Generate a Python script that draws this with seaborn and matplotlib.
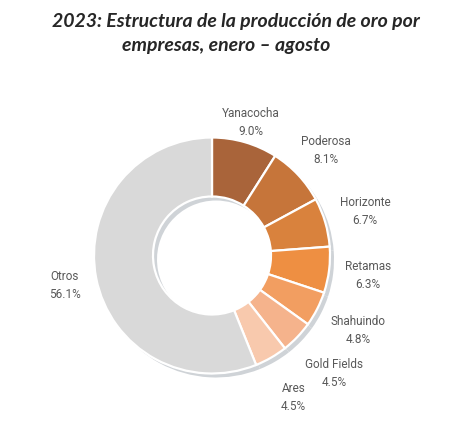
import numpy as np
import seaborn as sns
import matplotlib.pyplot as plt

empresas = ["Yanacocha", "Poderosa", "Horizonte", "Retamas", "Shahuindo", "Gold Fields", "Ares", "Otros"]
participacion = [9.0, 8.1, 6.7, 6.3, 4.8, 4.5, 4.5, 56.1]
colores = ["#a9643a", "#c6753a", "#d9823d", "#ee8f42", "#f29e61", "#f5b38c", "#f8c9ad", "#d9d9d9"]
label_r = [1.18, 1.32, 1.35, 1.33, 1.39, 1.43, 1.38, 1.27]

sns.set_theme(style="white")
plt.rcParams["font.family"] = ["Liberation Sans Narrow", "Roboto", "DejaVu Sans"]

fig = plt.figure(figsize=(4.74, 4.25), dpi=100)
ax = fig.add_axes([0, 0, 1, 1])

cx, cy, R = 212, 425 - 255.5, 118

# sombra
ax.pie(participacion, colors=["#cfd3d7"] * len(participacion), startangle=90, counterclock=False,
       radius=R, center=(cx + 4, cy - 4), wedgeprops=dict(width=R * 0.5, linewidth=0), frame=True)
# anillo
ax.pie(participacion, colors=colores, startangle=90, counterclock=False,
       radius=R, center=(cx, cy), wedgeprops=dict(width=R * 0.5, edgecolor="white", linewidth=1.6), frame=True)
ax.set_xlim(0, 474)
ax.set_ylim(0, 425)
ax.set_aspect("equal")
ax.axis("off")

acum = 0
for nombre, val, r in zip(empresas, participacion, label_r):
    ang = np.deg2rad(90 - (acum + val / 2) * 3.6)
    acum += val
    ax.text(cx + R * r * np.cos(ang), cy + R * r * np.sin(ang) - 1, f"{nombre}\n{val:.1f}%",
            ha="center", va="center", fontsize=8.5, color="#595959", linespacing=1.5)

titulo = dict(ha="center", va="center", fontsize=14, fontweight="bold", style="italic",
              color="#262626", family=["Lato", "DejaVu Sans"])
fig.text(0.498, 1 - 21 / 425, "2023: Estructura de la producción de oro por", **titulo)
fig.text(0.478, 1 - 45 / 425, "empresas, enero – agosto", **titulo)

fig.savefig("out.png", dpi=100)
